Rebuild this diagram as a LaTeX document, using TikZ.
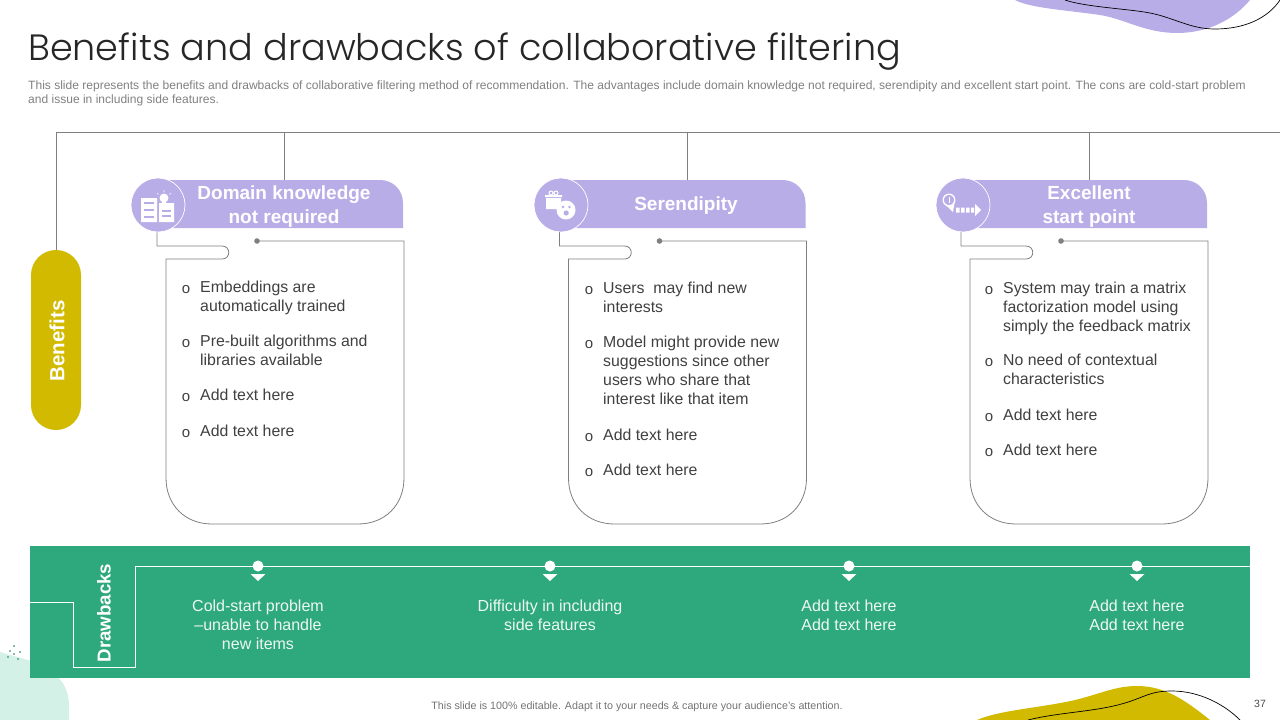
\documentclass[tikz,border=0pt]{standalone}
\usepackage{fontspec}
\setmainfont{Liberation Sans}
\newfontfamily\titlefont{Poppins Light}
\usetikzlibrary{calc}
\definecolor{lavender}{HTML}{B9ADE8}
\definecolor{bandgreen}{HTML}{2EA87D}
\definecolor{pillyellow}{HTML}{D1BA00}
\definecolor{mint}{HTML}{D3F1E7}
\definecolor{cardline}{HTML}{7F7F7F}
\definecolor{bodygrey}{HTML}{404040}
\tikzset{
	item/.style={anchor=north west, inner sep=0pt, align=left, text=bodygrey, font=\fontsize{15.85}{19.2}\selectfont},
	headtext/.style={inner sep=0pt, align=center, text=white, font=\bfseries\fontsize{19}{24}\selectfont},
	bandtext/.style={inner sep=0pt, align=center, text=white!92!bandgreen, font=\fontsize{16}{19.2}\selectfont},
	iconring/.style={circle, fill=lavender, draw=white, line width=0.7pt, minimum size=54pt, inner sep=0pt},
	banddot/.style={circle, fill=white, minimum size=11pt, inner sep=0pt},
}
\newcommand{\bl}{\leavevmode\rule{0pt}{12pt}\llap{\raisebox{-0.8pt}{\fontsize{15}{15}\selectfont o}\hspace{10pt}}}
% header band and outline of one card, #1 is the x shift
\def\headband[#1]{\fill[lavender, xshift=#1] (158,180) -- (380,180) .. controls (393,180) and (403,190) .. (403,203) -- (403,228) -- (158,228) -- cycle;}
\def\cardline[#1]{\draw[cardline, line width=0.8pt, xshift=#1] (157,232) -- (157,246) -- (222,246) .. controls (231,246) and (231,259) .. (222,259) -- (166,259) -- (166,478) .. controls (166,505) and (185,524) .. (212,524) -- (358,524) .. controls (385,524) and (404,505) .. (404,478) -- (404,241) -- (257,241);
	\fill[cardline, xshift=#1] (257,241) circle (2.8);}

\begin{document}
\begin{tikzpicture}[x=1pt, y=-1pt]
	\useasboundingbox (0,0) rectangle (1280,720);
	
	%%%%% BLOBS %%%%%
	\fill[lavender] (1015,0) .. controls (1030,8) and (1065,10) .. (1100,15) .. controls (1125,19) and (1145,33) .. (1177,33) .. controls (1210,33) and (1235,18) .. (1250,0) -- cycle;
	\draw[black, line width=0.7pt] (1065,0) .. controls (1085,7) and (1130,9) .. (1150,13) .. controls (1175,18) and (1190,29) .. (1215,29) .. controls (1245,29) and (1268,18) .. (1280,0);
	\fill[pillyellow] (977,720) .. controls (1000,710) and (1040,708) .. (1075,700) .. controls (1100,694) and (1115,686) .. (1137,686) .. controls (1165,686) and (1185,700) .. (1210,720) -- cycle;
	\draw[black, line width=0.7pt] (1028,720) .. controls (1060,712) and (1095,712) .. (1125,703) .. controls (1145,697) and (1150,691) .. (1172,691) .. controls (1200,691) and (1225,705) .. (1240,720);
	\fill[mint] (0,652) .. controls (25,660) and (68,665) .. (69,705) -- (69,720) -- (0,720) -- cycle;
	\fill[bandgreen!70!black] (14,646) circle (0.8) (20,652) circle (0.8) (10,651) circle (0.8) (14,654) circle (0.8) (8,657) circle (0.8) (18,659) circle (0.8);
	
	%%%%% TITLE %%%%%
	\node[anchor=base west, inner sep=0pt, text=black!85, font=\titlefont\fontsize{36.6}{40}\selectfont] (title) at (28,60) {Benefits and drawbacks of collaborative filtering};
	\node[anchor=north west, inner sep=0pt, align=left, text=black!50, font=\fontsize{12.04}{14.4}\selectfont] (intro) at (28,80.5) {This slide represents the benefits and drawbacks of collaborative filtering method of recommendation. The advantages include domain knowledge not required, serendipity and excellent start point.  The cons are cold-start problem\\and issue in including side features.};
	
	%%%%% BENEFITS %%%%%
	\node[rectangle, rounded corners=25pt, fill=pillyellow, minimum width=50pt, minimum height=180pt, inner sep=0pt] (benefits) at (56,340) {};
	\node[rotate=90, inner sep=0pt, text=white, font=\bfseries\fontsize{20.5}{24}\selectfont] (benefitstext) at (57,341) {Benefits};
	\coordinate (topend) at (1280,132);
	\coordinate (headtop1) at (284,180);
	\coordinate (headtop2) at (687,180);
	\coordinate (headtop3) at (1089,180);
	\draw[cardline, line width=0.8pt] (benefits.north) |- (topend);
	\draw[cardline, line width=0.8pt] (headtop1) -- (headtop1 |- topend);
	\draw[cardline, line width=0.8pt] (headtop2) -- (headtop2 |- topend);
	\draw[cardline, line width=0.8pt] (headtop3) -- (headtop3 |- topend);
	
	\headband[0]
	\headband[402.5]
	\headband[804]
	\cardline[0]
	\cardline[402.5]
	\cardline[804]
	
	\node[iconring] (icon1) at (158,205) {};
	\node[iconring] (icon2) at (561,205) {};
	\node[iconring] (icon3) at (963,205) {};
	
	% book and bulb
	\fill[white] (141,198) rectangle (157,222) (159,203) rectangle (174,222) (164,198) circle (4.5);
	\fill[white] (162,201) rectangle (166,207);
	\draw[lavender, line width=1.2pt] (144,203) -- (154,203) (144,210) -- (154,210) (144,217) -- (154,217) (162,211) -- (171,211) (162,216) -- (171,216);
	\draw[white, line width=0.6pt] (164,190) -- (164,192) (157,193) -- (158.5,194.5) (171,193) -- (169.5,194.5);
	
	% gift and smiley
	\fill[white] (546,198) rectangle (561,209) (545,195) rectangle (562,197);
	\draw[white, line width=1pt] (551,193) circle (2) (556,193) circle (2);
	\fill[white] (566,210) circle (9.5);
	\fill[lavender] (563,207) circle (1.4) (569.5,207) circle (1.4) (566.2,213) circle (2.6);
	
	% pin and dotted arrow
	\fill[white] (943.5,203) -- (954.5,203) -- (953,212) -- cycle;
	\draw[white, line width=1.3pt, fill=lavender] (949,200) circle (5.8);
	\draw[white, line width=0.7pt] (949,197) -- (949,203);
	\fill[white] (956,207.5) rectangle (959.5,212.5) (961,207.5) rectangle (964.5,212.5) (966,207.5) rectangle (969.5,212.5) (971,207.5) rectangle (974,212.5);
	\fill[white] (975,204) -- (981,210) -- (975,216) -- cycle;
	
	\node[headtext] (head1) at (284,206.5) {Domain knowledge\\not required};
	\node[headtext] (head2) at (686,206) {Serendipity};
	\node[headtext] (head3) at (1089,206.5) {Excellent\\start point};
	
	\node[item] (a1) at (200,280) {\bl Embeddings are\\automatically trained};
	\node[item] (a2) at (200,334) {\bl Pre-built algorithms and\\libraries available};
	\node[item] (a3) at (200,388) {\bl Add text here};
	\node[item] (a4) at (200,424) {\bl Add text here};
	
	\node[item] (b1) at (603,281) {\bl Users\ \ may find new\\interests};
	\node[item] (b2) at (603,335) {\bl Model might provide new\\suggestions since other\\users who share that\\interest like that item};
	\node[item] (b3) at (603,428) {\bl Add text here};
	\node[item] (b4) at (603,463) {\bl Add text here};
	
	\node[item] (c1) at (1003,281) {\bl System may train a matrix\\factorization model using\\simply the feedback matrix};
	\node[item] (c2) at (1003,353) {\bl No need of contextual\\characteristics};
	\node[item] (c3) at (1003,408) {\bl Add text here};
	\node[item] (c4) at (1003,443) {\bl Add text here};
	
	%%%%% DRAWBACKS %%%%%
	\fill[bandgreen] (30,546) rectangle (1250,678);
	\coordinate (bandin) at (30,602);
	\coordinate (bandout) at (1250,566);
	\node[rotate=90, inner sep=0pt, text=white, font=\bfseries\fontsize{18.7}{24}\selectfont] (drawbacks) at (104,613) {Drawbacks};
	\draw[white, line width=0.8pt] (bandin) -- (73.5,602) -- (73.5,667) -- (135,667) -- (135,566) -- (bandout);
	
	\node[banddot] (dot1) at (258,566) {};
	\node[banddot] (dot2) at (550,566) {};
	\node[banddot] (dot3) at (849,566) {};
	\node[banddot] (dot4) at (1137,566) {};
	\fill[white] (250.5,574) -- (265.5,574) -- (258,581) -- cycle;
	\fill[white] (542.5,574) -- (557.5,574) -- (550,581) -- cycle;
	\fill[white] (841.5,574) -- (856.5,574) -- (849,581) -- cycle;
	\fill[white] (1129.5,574) -- (1144.5,574) -- (1137,581) -- cycle;
	
	\node[bandtext] (d1) at (258,624.5) {Cold-start problem\\--unable to handle\\new items};
	\node[bandtext] (d2) at (550,615) {Difficulty in including\\side features};
	\node[bandtext] (d3) at (849,615) {Add text here\\Add text here};
	\node[bandtext] (d4) at (1137,615) {Add text here\\Add text here};
	
	%%%%% FOOT %%%%%
	\node[inner sep=0pt, text=black!55, font=\fontsize{10.7}{12}\selectfont] (foot) at (637,706.5) {This slide is 100\% editable.  Adapt it to your needs \& capture your audience's attention.};
	\node[inner sep=0pt, text=black!70, font=\fontsize{10.5}{12}\selectfont] (pageno) at (1260,704) {37};
\end{tikzpicture}
\end{document}
